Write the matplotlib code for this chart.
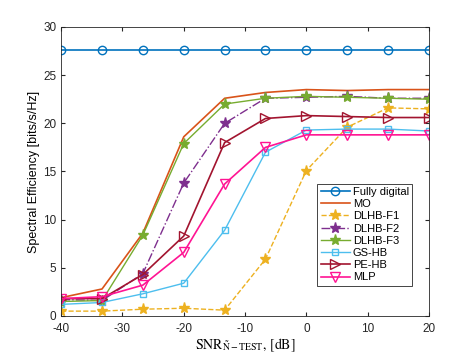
import matplotlib
matplotlib.use('Agg')
import matplotlib.pyplot as plt

# datos
snr = [-40, -33.33, -26.67, -20, -13.33, -6.67, 0, 6.67, 13.33, 20]
fully_digital = [27.6] * 10
mo = [1.9, 2.8, 8.6, 18.6, 22.6, 23.2, 23.5, 23.4, 23.5, 23.5]
dlhb_f1 = [0.5, 0.5, 0.7, 0.8, 0.6, 5.9, 15.1, 19.6, 21.6, 21.5]
dlhb_f2 = [1.7, 1.6, 4.4, 13.8, 20.0, 22.6, 22.7, 22.8, 22.6, 22.6]
dlhb_f3 = [1.5, 1.6, 8.4, 17.9, 22.0, 22.6, 22.8, 22.7, 22.6, 22.5]
gs_hb = [1.2, 1.4, 2.3, 3.4, 8.9, 17.0, 19.3, 19.4, 19.4, 19.2]
pe_hb = [1.8, 1.8, 4.3, 8.3, 18.0, 20.5, 20.8, 20.7, 20.6, 20.6]
mlp = [1.8, 2.0, 3.2, 6.6, 13.7, 17.5, 18.8, 18.8, 18.8, 18.8]

plt.rcParams['font.family'] = ['Liberation Sans', 'DejaVu Sans']
plt.rcParams['mathtext.fontset'] = 'stix'
plt.rcParams['axes.unicode_minus'] = False

fig = plt.figure(figsize=(4.74, 3.55), dpi=100)
ax = fig.add_axes([0.129, 0.11, 0.776, 0.814])

ax.plot(snr, fully_digital, '-o', color='#0072BD', mfc='none', ms=6, lw=1.2, label='Fully digital')
ax.plot(snr, mo, '-', color='#D95319', lw=1.2, label='MO')
ax.plot(snr, dlhb_f1, '--*', color='#EDB120', ms=8, lw=1.0, label='DLHB-F1')
ax.plot(snr, dlhb_f2, '-.*', color='#7E2F8E', ms=8, lw=1.0, label='DLHB-F2')
ax.plot(snr, dlhb_f3, '-*', color='#77AC30', ms=8, lw=1.0, label='DLHB-F3')
ax.plot(snr, gs_hb, '-s', color='#4DBEEE', mfc='none', ms=4, lw=1.0, label='GS-HB')
ax.plot(snr, pe_hb, '->', color='#A2142F', mfc='none', ms=7, lw=1.2, label='PE-HB')
ax.plot(snr, mlp, '-v', color='#FF1493', mfc='none', ms=7, lw=1.2, label='MLP')

ax.set_xlim(-40, 20)
ax.set_ylim(0, 30)
ax.set_xticks(range(-40, 21, 10))
ax.set_yticks(range(0, 31, 5))
ax.tick_params(direction='in', top=True, right=True, labelsize=8.5, colors='#262626', length=3)
ax.tick_params(axis='x', pad=5)
for s in ax.spines.values():
    s.set_color('#262626')
    s.set_linewidth(0.6)

ax.set_xlabel(r'$\mathrm{SNR}_{\tilde{\mathrm{N}}-\mathrm{TEST}}$, [dB]', fontsize=10, family='STIXGeneral', labelpad=1)
ax.set_ylabel('Spectral Efficiency [bits/s/Hz]', fontsize=9, labelpad=2)

leg = ax.legend(loc='lower right', bbox_to_anchor=(0.97, 0.085), fontsize=8, fancybox=False,
                edgecolor='#262626', framealpha=1, handlelength=2.6, borderpad=0.3,
                labelspacing=0.2, handletextpad=0.3)
leg.get_frame().set_linewidth(0.6)

fig.savefig('out.png', dpi=100)
